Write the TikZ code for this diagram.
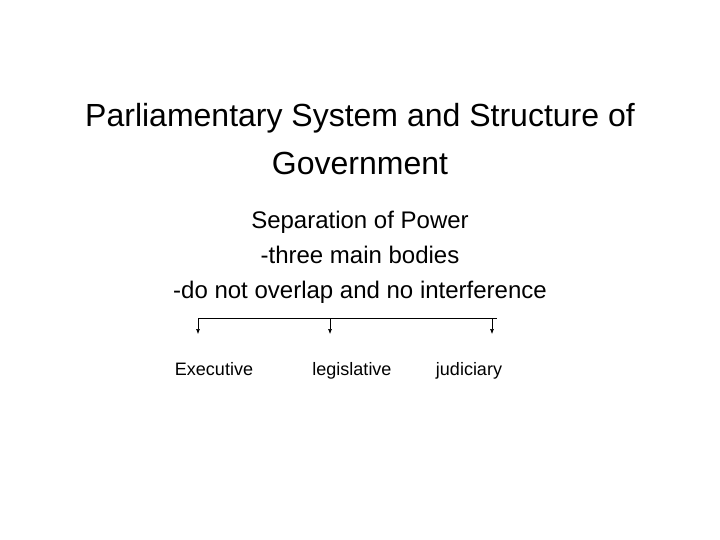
\documentclass[tikz,border=0pt]{standalone}
\usepackage{fontspec}
\setmainfont{Liberation Sans}
\usetikzlibrary{positioning,arrows.meta}

\begin{document}
\begin{tikzpicture}[x=1pt,y=-1pt,
    branch/.style={-{Latex[length=5pt,width=4pt]},line width=0.6pt},
    label/.style={font=\fontsize{18}{20}\selectfont,inner sep=0pt,anchor=base}]
    \useasboundingbox (0,0) rectangle (720,540);
    % title and the three lines below it
    \node[align=center,font=\fontsize{32}{48}\selectfont] (title) at (360,139)
        {Parliamentary System and Structure of\\Government};
    \node[align=center,font=\fontsize{24}{35}\selectfont] (sub) at (360,257)
        {Separation of Power\\-three main bodies\\-do not overlap and no interference};
    % the three bodies
    \node[label] (exe) at (214,375) {Executive};
    \node[label] (leg) at (352,375) {legislative};
    \node[label] (jud) at (469,375) {judiciary};
    % the bar and its arrows
    \coordinate (barL) at (198,318);
    \coordinate (barR) at (497,318);
    \coordinate (barM) at (330,318);
    \coordinate (barJ) at (492,318);
    \coordinate (tipL) at (198,334);
    \coordinate (tipM) at (330,334);
    \coordinate (tipJ) at (492,334);
    \draw[line width=0.6pt] (barL) -- (barR);
    \draw[branch] (barL) -- (tipL);
    \draw[branch] (barM) -- (tipM);
    \draw[branch] (barJ) -- (tipJ);
\end{tikzpicture}
\end{document}
